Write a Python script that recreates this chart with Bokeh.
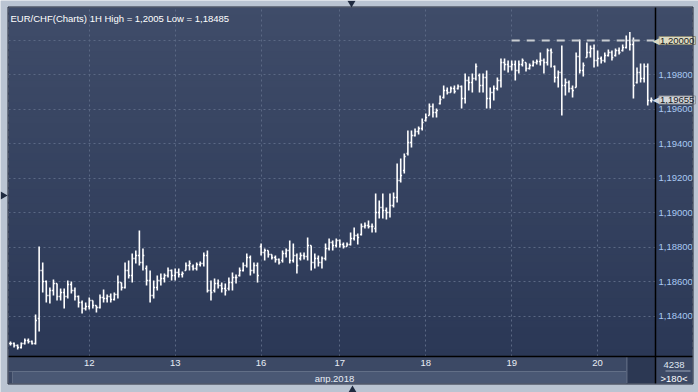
import numpy as np
from bokeh.plotting import figure
from bokeh.models import (FixedTicker, LinearAxis, CustomJSTickFormatter, Label,
                          Range1d, Grid)
from bokeh.embed import file_html
from bokeh.resources import INLINE

# ---------------- data (EUR/CHF, 1H bars) ----------------
bar_high = [1.18254, 1.18248, 1.18237, 1.18248, 1.18272, 1.18272, 1.18260, 1.18411, 1.18805, 1.18712,
            1.18608, 1.18567, 1.18614, 1.18591, 1.18562, 1.18562, 1.18608, 1.18602, 1.18567, 1.18521,
            1.18492, 1.18480, 1.18509, 1.18492, 1.18463, 1.18527, 1.18556, 1.18527, 1.18533, 1.18538,
            1.18637, 1.18596, 1.18712, 1.18724, 1.18765, 1.18782, 1.18898, 1.18794, 1.18695, 1.18666,
            1.18608, 1.18637, 1.18649, 1.18649, 1.18683, 1.18672, 1.18678, 1.18678, 1.18660, 1.18712,
            1.18724, 1.18701, 1.18712, 1.18718, 1.18770, 1.18782, 1.18608, 1.18620, 1.18614, 1.18596,
            1.18591, 1.18625, 1.18654, 1.18643, 1.18683, 1.18712, 1.18765, 1.18753, 1.18712, 1.18712,
            1.18823, 1.18794, 1.18782, 1.18759, 1.18753, 1.18736, 1.18782, 1.18794, 1.18840, 1.18823,
            1.18765, 1.18770, 1.18770, 1.18857, 1.18811, 1.18765, 1.18753, 1.18747, 1.18823, 1.18852,
            1.18840, 1.18852, 1.18846, 1.18828, 1.18828, 1.18886, 1.18915, 1.18881, 1.18939, 1.18944,
            1.18956, 1.18939, 1.19113, 1.19072, 1.19113, 1.19031, 1.19113, 1.19118, 1.19287, 1.19316,
            1.19345, 1.19478, 1.19478, 1.19490, 1.19501, 1.19548, 1.19577, 1.19635, 1.19635, 1.19606,
            1.19681, 1.19739, 1.19727, 1.19733, 1.19739, 1.19745, 1.19739, 1.19809, 1.19791, 1.19809,
            1.19867, 1.19809, 1.19809, 1.19826, 1.19727, 1.19739, 1.19785, 1.19896, 1.19896, 1.19884,
            1.19884, 1.19884, 1.19884, 1.19896, 1.19872, 1.19867, 1.19884, 1.19890, 1.19930, 1.19896,
            1.19954, 1.19954, 1.19855, 1.19826, 1.19971, 1.19780, 1.19768, 1.19739, 1.19930, 1.20006,
            1.19872, 1.19988, 1.19971, 1.19977, 1.19942, 1.19907, 1.19930, 1.19948, 1.19942, 1.19954,
            1.19959, 1.19977, 1.20029, 1.20050, 1.20017, 1.19843, 1.19867, 1.19867, 1.19867, 1.19669]
bar_low = [1.18231, 1.18219, 1.18208, 1.18214, 1.18237, 1.18243, 1.18237, 1.18237, 1.18312, 1.18538,
           1.18480, 1.18475, 1.18521, 1.18492, 1.18492, 1.18446, 1.18504, 1.18533, 1.18492, 1.18451,
           1.18417, 1.18434, 1.18440, 1.18446, 1.18422, 1.18446, 1.18480, 1.18480, 1.18480, 1.18492,
           1.18504, 1.18550, 1.18562, 1.18620, 1.18596, 1.18707, 1.18695, 1.18666, 1.18579, 1.18480,
           1.18504, 1.18550, 1.18579, 1.18596, 1.18625, 1.18608, 1.18608, 1.18625, 1.18625, 1.18666,
           1.18666, 1.18666, 1.18666, 1.18689, 1.18689, 1.18538, 1.18492, 1.18538, 1.18562, 1.18538,
           1.18521, 1.18550, 1.18550, 1.18591, 1.18631, 1.18660, 1.18683, 1.18637, 1.18649, 1.18596,
           1.18753, 1.18724, 1.18741, 1.18730, 1.18712, 1.18701, 1.18712, 1.18741, 1.18707, 1.18712,
           1.18649, 1.18724, 1.18730, 1.18724, 1.18666, 1.18678, 1.18689, 1.18678, 1.18724, 1.18782,
           1.18782, 1.18799, 1.18799, 1.18794, 1.18805, 1.18811, 1.18840, 1.18817, 1.18869, 1.18910,
           1.18910, 1.18886, 1.18886, 1.18968, 1.18968, 1.18962, 1.18973, 1.19031, 1.19060, 1.19176,
           1.19229, 1.19333, 1.19379, 1.19443, 1.19455, 1.19478, 1.19530, 1.19565, 1.19553, 1.19553,
           1.19629, 1.19664, 1.19687, 1.19698, 1.19693, 1.19716, 1.19606, 1.19635, 1.19710, 1.19698,
           1.19768, 1.19698, 1.19698, 1.19606, 1.19606, 1.19652, 1.19710, 1.19727, 1.19826, 1.19814,
           1.19826, 1.19768, 1.19809, 1.19849, 1.19820, 1.19832, 1.19849, 1.19861, 1.19855, 1.19809,
           1.19855, 1.19843, 1.19756, 1.19727, 1.19565, 1.19681, 1.19698, 1.19669, 1.19727, 1.19809,
           1.19791, 1.19901, 1.19901, 1.19843, 1.19849, 1.19867, 1.19872, 1.19907, 1.19884, 1.19907,
           1.19919, 1.19936, 1.19954, 1.19942, 1.19664, 1.19751, 1.19756, 1.19756, 1.19623, 1.19640]
bar_open = [1.18243, 1.18243, 1.18231, 1.18219, 1.18243, 1.18260, 1.18254, 1.18243, 1.18388, 1.18666,
            1.18602, 1.18521, 1.18550, 1.18591, 1.18515, 1.18538, 1.18515, 1.18585, 1.18550, 1.18515,
            1.18480, 1.18446, 1.18457, 1.18492, 1.18463, 1.18451, 1.18509, 1.18504, 1.18515, 1.18498,
            1.18527, 1.18596, 1.18567, 1.18666, 1.18637, 1.18736, 1.18753, 1.18712, 1.18678, 1.18608,
            1.18521, 1.18567, 1.18608, 1.18620, 1.18637, 1.18666, 1.18637, 1.18654, 1.18643, 1.18666,
            1.18695, 1.18689, 1.18678, 1.18701, 1.18707, 1.18753, 1.18550, 1.18550, 1.18591, 1.18579,
            1.18562, 1.18562, 1.18596, 1.18625, 1.18637, 1.18666, 1.18695, 1.18741, 1.18666, 1.18695,
            1.18805, 1.18770, 1.18782, 1.18759, 1.18741, 1.18730, 1.18724, 1.18765, 1.18782, 1.18724,
            1.18753, 1.18736, 1.18753, 1.18747, 1.18811, 1.18712, 1.18736, 1.18712, 1.18736, 1.18794,
            1.18828, 1.18811, 1.18840, 1.18817, 1.18805, 1.18817, 1.18852, 1.18869, 1.18875, 1.18921,
            1.18927, 1.18921, 1.18910, 1.19002, 1.19031, 1.19014, 1.19002, 1.19043, 1.19089, 1.19188,
            1.19246, 1.19345, 1.19408, 1.19449, 1.19472, 1.19490, 1.19536, 1.19565, 1.19617, 1.19582,
            1.19635, 1.19669, 1.19710, 1.19698, 1.19722, 1.19722, 1.19733, 1.19664, 1.19768, 1.19756,
            1.19780, 1.19797, 1.19739, 1.19785, 1.19664, 1.19698, 1.19722, 1.19768, 1.19872, 1.19861,
            1.19849, 1.19861, 1.19826, 1.19861, 1.19872, 1.19838, 1.19855, 1.19872, 1.19878, 1.19884,
            1.19872, 1.19942, 1.19849, 1.19785, 1.19814, 1.19739, 1.19756, 1.19722, 1.19727, 1.19907,
            1.19826, 1.19901, 1.19930, 1.19954, 1.19884, 1.19896, 1.19884, 1.19913, 1.19930, 1.19913,
            1.19942, 1.19942, 1.19959, 1.20000, 1.19977, 1.19756, 1.19814, 1.19780, 1.19849, 1.19652]
bar_close = [1.18243, 1.18231, 1.18219, 1.18243, 1.18260, 1.18254, 1.18243, 1.18376, 1.18666, 1.18602,
             1.18521, 1.18550, 1.18591, 1.18515, 1.18538, 1.18515, 1.18585, 1.18550, 1.18515, 1.18480,
             1.18446, 1.18457, 1.18492, 1.18463, 1.18451, 1.18509, 1.18504, 1.18515, 1.18498, 1.18527,
             1.18596, 1.18567, 1.18666, 1.18637, 1.18736, 1.18753, 1.18712, 1.18753, 1.18608, 1.18521,
             1.18567, 1.18608, 1.18620, 1.18637, 1.18666, 1.18637, 1.18654, 1.18643, 1.18649, 1.18695,
             1.18707, 1.18678, 1.18701, 1.18707, 1.18753, 1.18550, 1.18538, 1.18591, 1.18579, 1.18562,
             1.18550, 1.18596, 1.18625, 1.18625, 1.18666, 1.18695, 1.18741, 1.18666, 1.18695, 1.18637,
             1.18770, 1.18782, 1.18759, 1.18741, 1.18730, 1.18712, 1.18765, 1.18782, 1.18724, 1.18753,
             1.18695, 1.18753, 1.18747, 1.18811, 1.18712, 1.18736, 1.18712, 1.18736, 1.18794, 1.18828,
             1.18811, 1.18840, 1.18817, 1.18805, 1.18817, 1.18852, 1.18869, 1.18857, 1.18921, 1.18927,
             1.18921, 1.18921, 1.19002, 1.19031, 1.19014, 1.19002, 1.19043, 1.19089, 1.19188, 1.19217,
             1.19327, 1.19408, 1.19449, 1.19472, 1.19490, 1.19524, 1.19553, 1.19617, 1.19582, 1.19594,
             1.19658, 1.19710, 1.19698, 1.19722, 1.19704, 1.19733, 1.19664, 1.19768, 1.19756, 1.19780,
             1.19849, 1.19739, 1.19785, 1.19664, 1.19698, 1.19722, 1.19768, 1.19872, 1.19861, 1.19849,
             1.19861, 1.19826, 1.19861, 1.19884, 1.19838, 1.19855, 1.19872, 1.19878, 1.19884, 1.19872,
             1.19942, 1.19930, 1.19785, 1.19814, 1.19739, 1.19756, 1.19722, 1.19710, 1.19907, 1.19826,
             1.19855, 1.19930, 1.19954, 1.19884, 1.19896, 1.19884, 1.19913, 1.19930, 1.19901, 1.19942,
             1.19930, 1.19959, 1.20000, 1.19977, 1.19739, 1.19814, 1.19780, 1.19849, 1.19652, 1.19655]

day_start_bar = [22, 46, 70, 92, 116, 140, 164]
day_labels = ["12", "13", "16", "17", "18", "19", "20"]
month_label = "апр.2018"
month_label_bar = 90.5
price_ticks = [1.184, 1.186, 1.188, 1.190, 1.192, 1.194, 1.196, 1.198, 1.200]
alert_level = 1.2000
alert_from_bar = 140
title_text = "EUR/CHF(Charts) 1H High = 1,2005 Low = 1,18485"
bars_shown_text = ">180<"
counter_text = "4238"

# ---------------- layout (the frame covers the whole canvas) ----------------
W, H = 698, 392
PX_PER_BAR = 3.58
BAR0_PX = 10.0
PRICE_AT_Y0 = 1.20232        # price at canvas top (y px = 0)
PRICE_PER_PX = 0.000058
X0 = -BAR0_PX / PX_PER_BAR
X1 = X0 + W / PX_PER_BAR
Y1 = PRICE_AT_Y0
Y0 = PRICE_AT_Y0 - H * PRICE_PER_PX
FONT = "Liberation Sans"


def sx(px):
    return X0 + px / PX_PER_BAR


def sy(py):
    return Y1 - py * PRICE_PER_PX


L_, T_, R_, B_ = 8, 7, 692, 383        # chart box
CR, CB, MB = 655, 356, 371             # price-area right, price-area bottom, month band top

p = figure(width=W, height=H, x_range=Range1d(X0, X1), y_range=Range1d(Y0, Y1),
           output_backend="svg", toolbar_location=None,
           x_axis_location=None, y_axis_location=None,
           min_border=0, min_border_left=0, min_border_right=0,
           min_border_top=0, min_border_bottom=0)
p.background_fill_color = "#bac4d2"
p.border_fill_color = "#bac4d2"
p.outline_line_color = None
p.grid.visible = False

# vertical gradient behind price area and price axis
n = 48
edges = np.linspace(sy(CB), sy(T_), n + 1)
c_bot = np.array([0x2b, 0x38, 0x56])
c_top = np.array([0x3f, 0x4c, 0x69])
cols = []
for k in range(n):
    t = (k + 0.5) / n
    c = (c_bot + (c_top - c_bot) * t).round().astype(int)
    cols.append("#%02x%02x%02x" % tuple(c))
p.quad(left=sx(L_), right=sx(R_), bottom=edges[:-1],
       top=np.minimum(edges[1:] + (edges[1] - edges[0]) * 0.3, sy(T_)),
       fill_color=cols, line_color=None, level="image")

# bottom bands
p.quad(left=[sx(L_), sx(12), sx(L_), sx(626), sx(CR)],
       right=[sx(626), sx(626), sx(12), sx(CR), sx(R_)],
       bottom=[sy(MB), sy(B_), sy(B_), sy(B_), sy(B_)],
       top=[sy(CB), sy(MB), sy(MB), sy(CB), sy(CB)],
       fill_color=["#3c4965", "#4a5874", "#3a4763", "#2c3853", "#3c4965"],
       line_color=None, level="image")
p.segment(x0=[sx(626.5)], y0=[sy(B_)], x1=[sx(626.5)], y1=[sy(CB)],
          line_color="#5a6680", line_width=1)
p.segment(x0=[sx(665)], y0=[sy(370.5)], x1=[sx(690)], y1=[sy(370.5)],
          line_color="#9aa6ba", line_width=1)

# chart box outline
p.quad(left=[sx(L_ - 0.5)], right=[sx(R_ + 0.5)], bottom=[sy(B_ + 0.5)], top=[sy(T_ - 0.5)],
       fill_color=None, line_color="#1c2335", line_width=1, level="overlay")

# grids (limited to the price area)
gx = Grid(dimension=0, ticker=FixedTicker(ticks=day_start_bar),
          cross_bounds=(sy(CB), sy(T_)),
          grid_line_color="#5b6884", grid_line_dash="2 3", grid_line_width=1)
gy = Grid(dimension=1, ticker=FixedTicker(ticks=price_ticks),
          cross_bounds=(sx(L_), sx(CR)),
          grid_line_color="#5b6884", grid_line_dash="2 3", grid_line_width=1)
p.add_layout(gx)
p.add_layout(gy)

# right price axis (fixed inside the canvas)
yax = LinearAxis(ticker=FixedTicker(ticks=price_ticks), fixed_location=sx(CR),
                 bounds=(sy(B_), sy(T_)),
                 formatter=CustomJSTickFormatter(code="return tick.toFixed(5).replace('.', ',');"))
for a in (yax,):
    a.major_tick_out = 0
    a.major_tick_in = 0
    a.minor_tick_out = 0
    a.minor_tick_in = 0
yax.axis_line_color = "black"
yax.axis_line_width = 1.5
yax.major_label_text_color = "#a9c9f2"
yax.major_label_text_font = FONT
yax.major_label_text_font_size = "9.5px"
yax.major_label_standoff = 3
p.add_layout(yax, "right")

# bottom day axis
xax = LinearAxis(ticker=FixedTicker(ticks=day_start_bar), fixed_location=sy(CB),
                 bounds=(sx(L_), sx(R_)),
                 major_label_overrides={d: l for d, l in zip(day_start_bar, day_labels)})
xax.major_tick_out = 0
xax.major_tick_in = 0
xax.minor_tick_out = 0
xax.minor_tick_in = 0
xax.axis_line_color = "black"
xax.axis_line_width = 1.5
xax.major_label_text_color = "#e8edf5"
xax.major_label_text_font = FONT
xax.major_label_text_font_size = "9.5px"
xax.major_label_standoff = 3
p.add_layout(xax, "below")

# month axis
max2 = LinearAxis(ticker=FixedTicker(ticks=[month_label_bar]), fixed_location=sy(MB),
                  major_label_overrides={month_label_bar: month_label})
max2.major_tick_out = 0
max2.major_tick_in = 0
max2.minor_tick_out = 0
max2.minor_tick_in = 0
max2.axis_line_color = None
max2.major_label_text_color = "#e8edf5"
max2.major_label_text_font = FONT
max2.major_label_text_font_size = "9.5px"
max2.major_label_standoff = 1
p.add_layout(max2, "below")

# OHLC bars
idx = np.arange(len(bar_close))
BAR = "#ffffff"
p.segment(idx, bar_low, idx, bar_high, line_color=BAR, line_width=1.6)
p.segment(idx - 0.38, bar_open, idx, bar_open, line_color=BAR, line_width=1.6)
p.segment(idx, bar_close, idx + 0.38, bar_close, line_color=BAR, line_width=1.6)

# alert level dashed line
p.line([alert_from_bar, sx(CR - 1)], [alert_level, alert_level], line_color="#c9cdd2",
       line_width=2.2, line_dash="8 7")

# title
p.add_layout(Label(x=sx(10), y=sy(17.5), text=title_text, text_align="left",
                   text_baseline="alphabetic", text_color="#ffffff",
                   text_font=FONT, text_font_size="9.5px"))

# price tags
for lvl, txt, fill, edge in [(alert_level, "1,20000", "#dcdac2", "#8c8a76"),
                             (bar_close[-1], "1,19655", "#d3d6db", "#8a8e96")]:
    p.add_layout(Label(x=sx(658.5), y=lvl, text=txt, text_align="left",
                       text_baseline="middle", text_color="#15181e",
                       text_font=FONT, text_font_size="9.5px",
                       background_fill_color=fill, border_line_color=edge,
                       padding=1))
    p.add_layout(Label(x=sx(659), y=lvl, text="◀", text_align="right",
                       text_baseline="middle", text_color=fill,
                       text_font="DejaVu Sans", text_font_size="9px"))

# bottom-right info box
p.add_layout(Label(x=sx(673.5), y=sy(364), text=counter_text, text_align="center",
                   text_baseline="middle", text_color="#dfe6f0",
                   text_font=FONT, text_font_size="9.5px"))
p.add_layout(Label(x=sx(673.5), y=sy(377.5), text=bars_shown_text, text_align="center",
                   text_baseline="middle", text_color="#ffffff",
                   text_font=FONT, text_font_size="9.5px"))

# small frame arrows
p.scatter(x=[sx(351), sx(352)], y=[sy(2.5), sy(389.5)],
          marker=["inverted_triangle", "triangle"], size=8,
          fill_color="#1f2a3f", line_color=None)
p.scatter(x=[sx(2.5)], y=[sy(195)], marker="triangle", angle=-np.pi / 2, size=8,
          fill_color="#1f2a3f", line_color=None)

open("out.html", "w").write(file_html(p, INLINE))
